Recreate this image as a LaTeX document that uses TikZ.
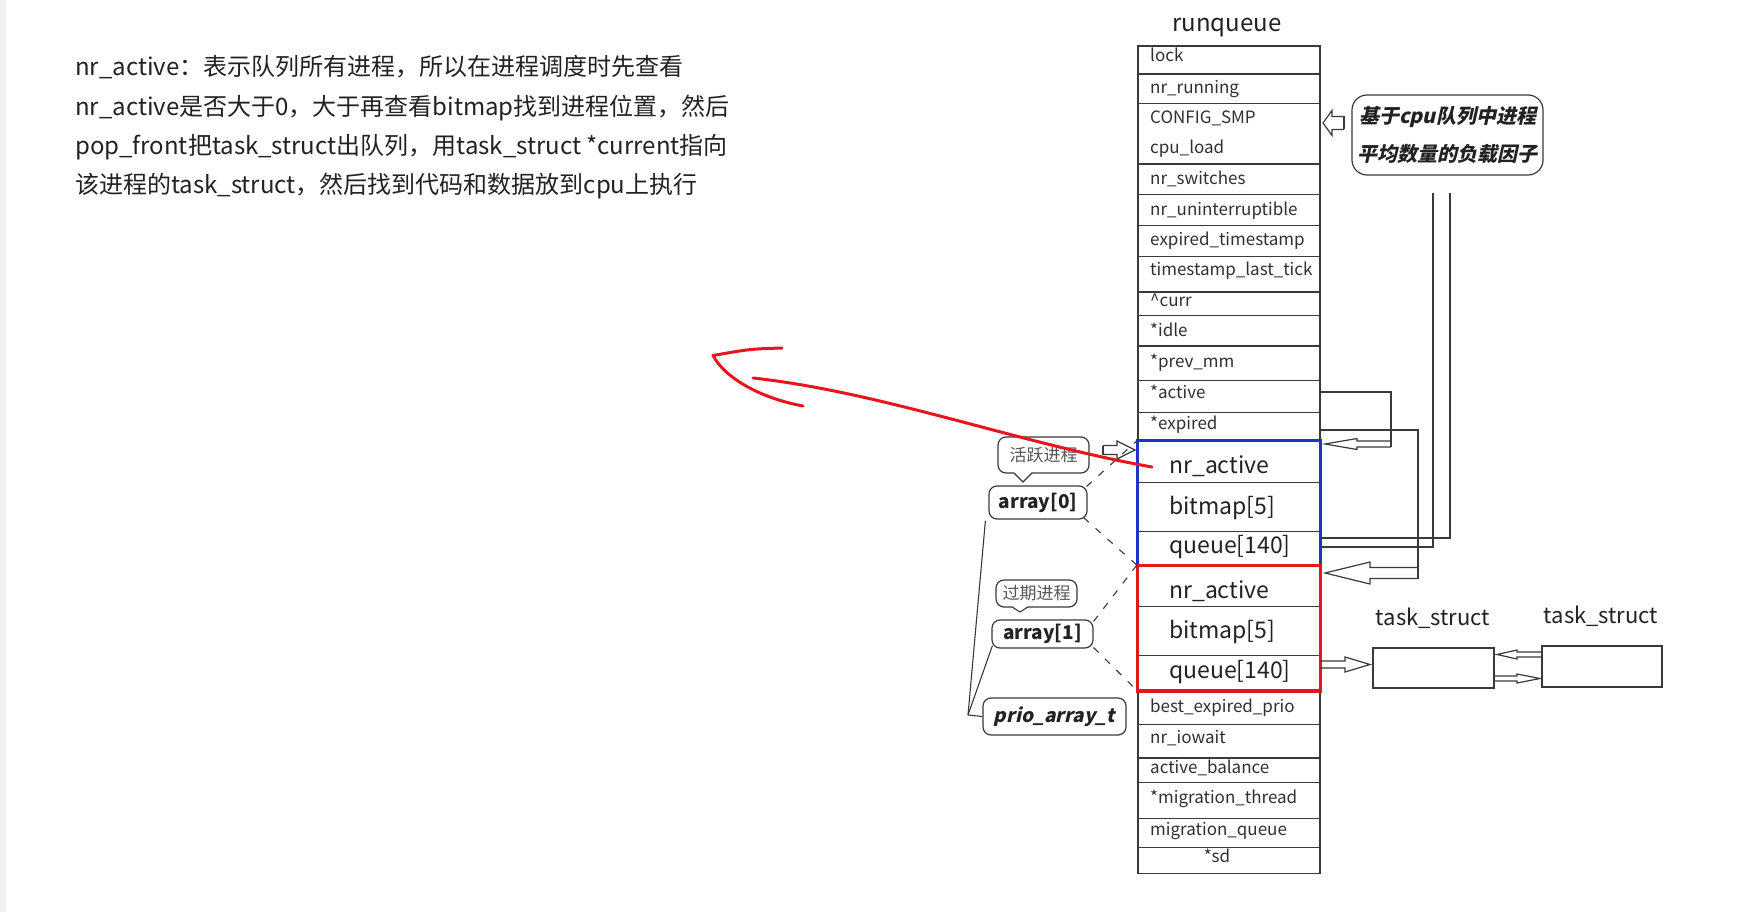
\documentclass[tikz,border=0pt]{standalone}
\usepackage{fontspec}
\setmainfont{Noto Sans CJK SC}
\newfontfamily\slantfont{Noto Sans CJK SC}[FakeSlant=0.22]
\usetikzlibrary{calc}
\definecolor{ink}{HTML}{222222}
\definecolor{rowink}{HTML}{303030}
\definecolor{lineg}{HTML}{3A3A3A}
\definecolor{bluebx}{HTML}{1C35C8}
\definecolor{redbx}{HTML}{E01A1A}
\definecolor{redpen}{HTML}{E8141E}
\definecolor{callgray}{HTML}{555555}
\newcommand{\hollowarr}[6]{%
  \draw[arrowln] (#1,{#4-#5}) -- (#2,{#4-#5}) -- (#2,{#4-#6}) -- (#3,#4) -- (#2,{#4+#6}) -- (#2,{#4+#5}) -- (#1,{#4+#5});}
\tikzset{
  rowbox/.style={draw=lineg, line width=1.3pt, minimum width=182, inner sep=0, anchor=center},
  rowtxt/.style={anchor=base west, inner sep=0, text=rowink, font=\fontsize{17}{20}\selectfont},
  bigtxt/.style={anchor=base west, inner sep=0, text=ink, font=\fontsize{23}{26}\selectfont},
  bluebox/.style={draw=bluebx, line width=3pt},
  redbox/.style={draw=redbx, line width=3.5pt},
  conn/.style={draw=lineg, line width=1.3pt},
  arrowln/.style={draw=lineg, line width=1.2pt, line join=miter},
  dashln/.style={draw=lineg, line width=1.1pt, dash pattern=on 7pt off 9pt},
  thinln/.style={draw=lineg, line width=1.1pt},
  callout/.style={draw=lineg, line width=1.2pt, rounded corners=8pt, inner sep=0, fill=white, text=ink},
  tbox/.style={draw=lineg, line width=1.3pt, inner sep=0},
  tlabel/.style={anchor=base, inner sep=0, text=ink, font=\fontsize{22}{24}\selectfont},
  redstroke/.style={draw=redpen, line width=3pt, line cap=round, line join=round},
}
\begin{document}
\begin{tikzpicture}[x=1pt,y=-1pt]
\useasboundingbox (0,0) rectangle (1744,912);
\fill[white] (0,0) rectangle (1744,912);
\fill[gray!12] (0,0) rectangle (6,912);

% explanatory text
\node[anchor=base west, inner sep=0, text=ink, font=\fontsize{24}{28}\selectfont] (p1) at (75,76) {nr\_active：表示队列所有进程，所以在进程调度时先查看};
\node[anchor=base west, inner sep=0, text=ink, font=\fontsize{24}{28}\selectfont] (p2) at (75,115.3) {nr\_active是否大于0，大于再查看bitmap找到进程位置，然后};
\node[anchor=base west, inner sep=0, text=ink, font=\fontsize{24}{28}\selectfont] (p3) at (75,154.6) {pop\_front把task\_struct出队列，用task\_struct *current指向};
\node[anchor=base west, inner sep=0, text=ink, font=\fontsize{24}{28}\selectfont] (p4) at (75,193.9) {该进程的task\_struct，然后找到代码和数据放到cpu上执行};

% title
\node[anchor=base, inner sep=0, text=ink, font=\fontsize{24}{28}\selectfont] (title) at (1227,32) {runqueue};

% runqueue rows
\foreach \rn/\rt/\rb/\ry/\rs in {
  r1/46/74/56.7/lock,
  r2/74/103.3/88.3/nr\_running,
  r4/164/194.7/179.3/nr\_switches,
  r5/194.7/225.3/210/nr\_uninterruptible,
  r6/225.3/256.7/240/expired\_timestamp,
  r7/256.7/292/270.7/timestamp\_last\_tick,
  r8/292/315.3/301.7/\^{}curr,
  r9/315.3/346/331.7/*idle,
  r10/346/380.7/362.7/*prev\_mm,
  r11/380.7/412.7/393.3/*active,
  r12/412.7/441/424/*expired,
  r19/690.3/724.3/707.7/best\_expired\_prio,
  r20/724.3/758/738.7/nr\_iowait,
  r21/758/782.7/768.7/active\_balance,
  r22/782.7/818.7/798.7/*migration\_thread,
  r23/818.7/847.7/830/migration\_queue}{
  \node[rowbox, minimum height={\rb-\rt}] (\rn) at (1229,{(\rt+\rb)/2}) {};
  \node[rowtxt] (\rn-t) at (1150,{\ry+5}) {\rs};
}
\node[rowbox, minimum height=60.7] (r3) at (1229,133.65) {};
\node[rowtxt] (r3-t) at (1150,123.3) {CONFIG\_SMP};
\node[rowtxt] (r3-u) at (1150,153.3) {cpu\_load};
\node[rowbox, minimum height=26] (r24) at (1229,860.7) {};
\node[rowtxt, anchor=base] (r24-t) at (1217,862.7) {*sd};

\foreach \rn/\rt/\rb/\ry/\rs in {
  b1/441/482.7/466/nr\_active,
  b2/482.7/531.3/507.7/bitmap[5],
  b3/531.3/565/546.7/queue[140],
  b4/565/606.7/591/nr\_active,
  b5/606.7/655.3/631/bitmap[5],
  b6/655.3/690.3/671/queue[140]}{
  \node[rowbox, minimum height={\rb-\rt}] (\rn) at (1229,{(\rt+\rb)/2}) {};
  \node[bigtxt] (\rn-t) at (1169,{\ry+7}) {\rs};
}
\draw[bluebox] (b1.north west) rectangle (b3.south east);
\draw[redbox] ($(b4.north west)+(0,1)$) rectangle (b6.south east);

% connector lines on the right
\coordinate (actR) at (1391,392);
\draw[conn] (r11.east |- actR) -- (actR) -- (1391,447);
\hollowarr{1391}{1357}{1325}{444}{3}{5.5}
\coordinate (expR) at (1418,430);
\draw[conn] (r12.east |- expR) -- (expR) -- (1418,578.5);
\hollowarr{1418}{1370}{1325}{573}{5.5}{11}
\coordinate (qa) at (1450,538);
\coordinate (qb) at (1433,547);
\draw[conn] (b3.east |- qa) -- (qa) -- (1450,193);
\draw[conn] (b3.east |- qb) -- (qb) -- (1433,193);

% load factor callout
\node[callout, rounded corners=15pt, minimum width=191, minimum height=80, align=center, font=\slantfont\fontsize{20}{38}\selectfont\bfseries] (cpu) at (1447.5,135) {基于cpu队列中进程\\平均数量的负载因子};
\hollowarr{1344}{1332}{1323}{123}{6.5}{12.5}
\draw[arrowln] (1344,116.5) -- (1344,129.5);

% task_struct list
\node[tbox, minimum width=121, minimum height=40] (t1) at (1433.5,668) {};
\node[tbox, minimum width=120, minimum height=41] (t2) at (1602,666.5) {};
\node[tlabel] (t1l) at (1433,625) {task\_struct};
\node[tlabel] (t2l) at (1601,623) {task\_struct};
\hollowarr{1320}{1345}{1370}{664.5}{3.5}{7.5}
\hollowarr{1542}{1517}{1497}{654.5}{2.5}{4.5}
\hollowarr{1494}{1517}{1540}{678.5}{2.5}{4.5}

% left side: dashed links and prio_array_t
\node[callout, minimum width=98, minimum height=33, font=\fontsize{19}{22}\selectfont\bfseries] (a0) at (1038,502.5) {array[0]};
\node[callout, minimum width=101, minimum height=28, font=\fontsize{19}{22}\selectfont\bfseries] (a1) at (1042.5,634) {array[1]};
\node[callout, minimum width=143, minimum height=37, font=\slantfont\fontsize{19}{22}\selectfont\bfseries] (pa) at (1054.5,716.5) {prio\_array\_t};
\draw[dashln] ($(a0.north east)+(-1,1)$) -- (b1.north west);
\draw[dashln] ($(a0.south east)+(-4,-2)$) -- (b3.south west);
\draw[dashln] ($(a1.north east)+(0,2)$) -- (b4.north west);
\draw[dashln] ($(a1.south east)+(0,-1)$) -- (b6.south west);
\coordinate (pj) at (968,715);
\draw[thinln] ($(a0.south west)+(-3,1)$) -- (pj);
\draw[thinln] ($(a1.south west)+(1,-3)$) -- (pj);
\draw[thinln] (pj) -- (pa.west);

% state callouts
\node[callout, minimum width=91, minimum height=36, text=callgray, font=\fontsize{17}{20}\selectfont] (c0) at (1043.5,455) {活跃进程};
\fill[white] (1014,472) -- (1023,481.5) -- (1032,472) -- cycle;
\draw[thinln] (1014,473) -- (1023,482) -- (1032,473);
\hollowarr{1103}{1117}{1135}{450}{4.5}{9}
\draw[arrowln] (1103,445.5) -- (1103,454.5);
\node[callout, minimum width=81, minimum height=27, text=callgray, font=\fontsize{17}{20}\selectfont] (c1) at (1036.5,593.5) {过期进程};
\fill[white] (1012,606) -- (1020,611.5) -- (1028,606) -- cycle;
\draw[thinln] (1012,607) -- (1020,612) -- (1028,607);

% red hand-drawn arrow
\coordinate (rs) at (1152,467);
\draw[redstroke] (rs) .. controls (1020,443.6) and (883,392.3) .. (753,378);
\draw[redstroke] (782,348) .. controls (750,349) .. (713,355.5) .. controls (725,378) and (760,398) .. (803,406);
\end{tikzpicture}
\end{document}
